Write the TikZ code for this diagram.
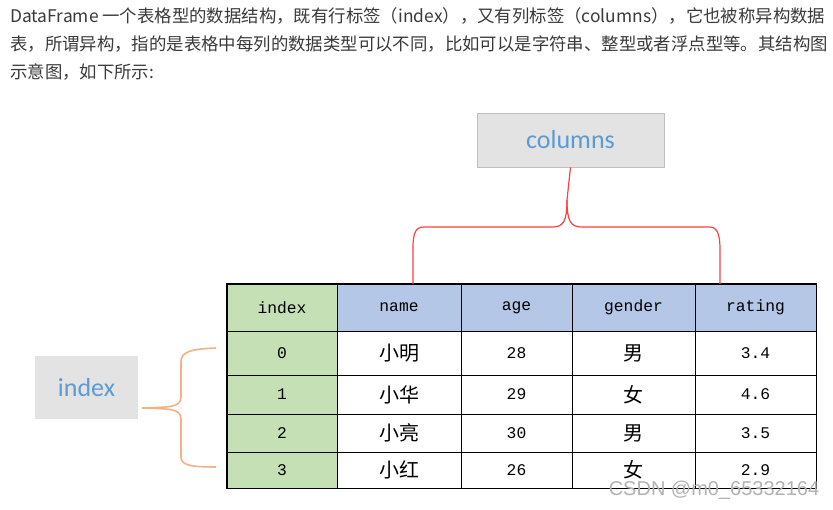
\documentclass[tikz,border=0pt]{standalone}
\usepackage{fontspec}
\setmainfont{Noto Sans CJK SC}
\newfontfamily\cjkf{Noto Sans CJK SC}
\newfontfamily\monof{Liberation Mono}
\newfontfamily\calf{Carlito}
\newfontfamily\wmf{Liberation Sans}
\newcommand\cjkt{\cjkf\fontsize{20}{20}\selectfont}
\definecolor{txtgray}{HTML}{3A3A3A}
\definecolor{hgreen}{HTML}{C5E0B4}
\definecolor{hblue}{HTML}{B4C7E7}
\definecolor{boxgray}{HTML}{E3E3E3}
\definecolor{boxline}{HTML}{BFBFBF}
\definecolor{lblue}{HTML}{5B9BD5}
\definecolor{bred}{HTML}{FF4040}
\definecolor{borange}{HTML}{F4B183}
\begin{document}
\begin{tikzpicture}[x=1pt,y=-1pt,
  para/.style={anchor=base west,inner sep=0pt,text=txtgray,font=\fontsize{17.4}{18}\selectfont},
  cell/.style={draw=black,line width=0.8pt,inner sep=0pt,font=\monof\fontsize{16.3}{16}\selectfont},
  c1/.style={minimum width=110pt},
  c2/.style={minimum width=124pt},
  c3/.style={minimum width=111pt},
  c4/.style={minimum width=123pt},
  c5/.style={minimum width=121pt},
  r0/.style={minimum height=47pt},
  r1/.style={minimum height=44pt},
  r2/.style={minimum height=39pt},
  r3/.style={minimum height=38pt},
  r4/.style={minimum height=36pt},
  lblbox/.style={fill=boxgray,inner sep=0pt,text=lblue,font=\calf\fontsize{26}{26}\selectfont},
  redbrace/.style={draw=bred,line width=1.2pt},
  orangebrace/.style={draw=borange,line width=1.6pt}
]
\useasboundingbox[fill=white] (0,0) rectangle (833,509);

% paragraph
\node[para] (l1) at (10,22.5) {DataFrame 一个表格型的数据结构，既有行标签（index），又有列标签（columns），它也被称异构数据};
\node[para] (l2) at (10,50) {表，所谓异构，指的是表格中每列的数据类型可以不同，比如可以是字符串、整型或者浮点型等。其结构图};
\node[para] (l3) at (10,78) {示意图，如下所示:};

% label boxes
\node[lblbox,draw=boxline,line width=0.8pt,minimum width=187pt,minimum height=54pt] (cbox) at (570.5,140) {columns};
\node[lblbox,minimum width=103pt,minimum height=63pt] (ibox) at (86.5,387.5) {index};

% table: header
\node[cell,c1,r0,fill=hgreen] (h1) at (282,307.5) {index};
\node[cell,c2,r0,fill=hblue] (h2) at (399,307.5) {name};
\node[cell,c3,r0,fill=hblue] (h3) at (516.5,307.5) {age};
\node[cell,c4,r0,fill=hblue] (h4) at (633.5,307.5) {gender};
\node[cell,c5,r0,fill=hblue] (h5) at (755.5,307.5) {rating};
% row 1
\node[cell,c1,r1,fill=hgreen] (a1) at (282,353) {0};
\node[cell,c2,r1] (a2) at (399,353) {\cjkt 小明};
\node[cell,c3,r1] (a3) at (516.5,353) {28};
\node[cell,c4,r1] (a4) at (633.5,353) {\cjkt 男};
\node[cell,c5,r1] (a5) at (755.5,353) {3.4};
% row 2
\node[cell,c1,r2,fill=hgreen] (b1) at (282,394.5) {1};
\node[cell,c2,r2] (b2) at (399,394.5) {\cjkt 小华};
\node[cell,c3,r2] (b3) at (516.5,394.5) {29};
\node[cell,c4,r2] (b4) at (633.5,394.5) {\cjkt 女};
\node[cell,c5,r2] (b5) at (755.5,394.5) {4.6};
% row 3
\node[cell,c1,r3,fill=hgreen] (d1) at (282,433) {2};
\node[cell,c2,r3] (d2) at (399,433) {\cjkt 小亮};
\node[cell,c3,r3] (d3) at (516.5,433) {30};
\node[cell,c4,r3] (d4) at (633.5,433) {\cjkt 男};
\node[cell,c5,r3] (d5) at (755.5,433) {3.5};
% row 4
\node[cell,c1,r4,fill=hgreen] (e1) at (282,470) {3};
\node[cell,c2,r4] (e2) at (399,470) {\cjkt 小红};
\node[cell,c3,r4] (e3) at (516.5,470) {26};
\node[cell,c4,r4] (e4) at (633.5,470) {\cjkt 女};
\node[cell,c5,r4] (e5) at (755.5,470) {2.9};
% outer border
\draw[line width=1.4pt] (h1.north west) rectangle (e5.south east);

% red brace (columns)
\coordinate (cl) at (413,284);
\coordinate (cr) at (720,284);
\coordinate (cj) at (567,200);
\draw[redbrace] (cbox.south) -- (cj);
\draw[redbrace] (cj) .. controls (567,222) and (563,227) .. (552,227) -- (424,227)
  .. controls (416,227) and (413,232) .. (413,248) -- (cl);
\draw[redbrace] (cj) .. controls (567,222) and (571,227) .. (582,227) -- (709,227)
  .. controls (717,227) and (720,233) .. (720,250) -- (cr);

% orange brace (index)
\coordinate (itip) at (142,408);
\coordinate (it) at (216,348);
\coordinate (ib) at (216,467);
\draw[orangebrace] (itip) .. controls (168,407) and (181,408) .. (181,397) -- (181,362)
  .. controls (181,352) and (190,349) .. (it);
\draw[orangebrace] (itip) .. controls (168,409) and (181,408) .. (181,419) -- (181,457)
  .. controls (181,465) and (190,467) .. (ib);

% watermark
\node[inner sep=0pt,text=gray!60,font=\wmf\fontsize{20}{20}\selectfont] (wm) at (714,490) {CSDN @m0\_65332164};
\end{tikzpicture}
\end{document}
